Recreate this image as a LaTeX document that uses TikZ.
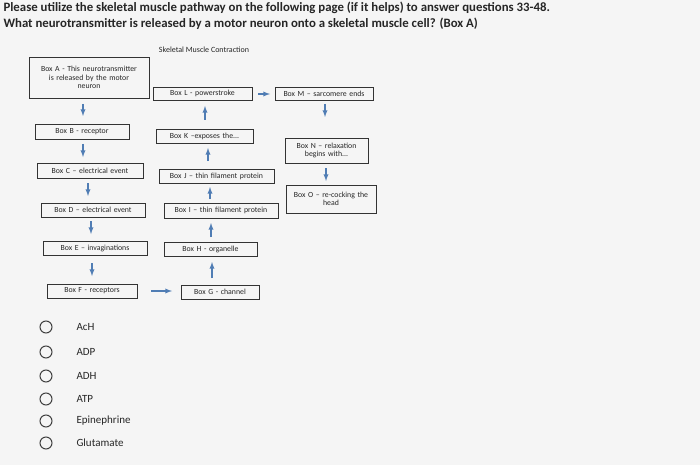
\documentclass[tikz,border=0pt]{standalone}
\usepackage{fontspec}
\setmainfont{Carlito}
\definecolor{arc}{RGB}{80,125,180}
\begin{document}
\begin{tikzpicture}[x=1pt,y=-1pt,
  bx/.style={inner sep=0pt,font=\fontsize{7.8}{8.3}\selectfont,align=center,text=black!85},
  ar/.style={-latex,draw=arc,line width=1.3pt},
  opt/.style={circle,draw=black!75,line width=1pt,minimum size=12pt,inner sep=0pt}]
\fill[black!4] (0,0) rectangle (700,465);
\useasboundingbox (0,0) rectangle (700,465);
\node[anchor=west,font=\fontsize{12.8}{13}\selectfont\bfseries,text=black!85] (h1) at (0,8) {Please utilize the skeletal muscle pathway on the following page (if it helps) to answer questions 33-48.};
\node[anchor=west,font=\fontsize{12.8}{13}\selectfont\bfseries,text=black!85] (h2) at (0,24) {What neurotransmitter is released by a motor neuron onto a skeletal muscle cell? (Box A)};
\node[font=\fontsize{8}{8}\selectfont,text=black!85] (t) at (204,50) {Skeletal Muscle Contraction};
\def\B(#1,#2,#3,#4,#5,#6){\path[draw=black!80,line width=0.9pt] (#2,#3) rectangle (#4,#5); \node[bx,text width=#4pt-#2pt-2pt] (#1) at ({(#2+#4)/2},{(#3+#5)/2}) {#6};}
\B(A,29,57,149,98,{Box A - This neurotransmitter\\ is released by the motor\\ neuron})
\B(B,35,124,129,139,{Box B - receptor})
\B(C,37,163,143,178,{Box C -- electrical event})
\B(D,41,203,145,217,{Box D -- electrical event})
\B(E,43,241,147,255,{Box E -- invaginations})
\B(F,47,284,137,298,{Box F - receptors})
\B(G,181,285,259,299,{Box G - channel})
\B(H,164,242,257,256,{Box H - organelle})
\B(I,164,203,278,218,{Box I -- thin filament protein})
\B(J,159,169,274,183,{Box J -- thin filament protein})
\B(K,156,129,253,143,{Box K --exposes the...})
\B(L,153,87,252,100,{Box L - powerstroke})
\B(M,275,87,373,100,{Box M -- sarcomere ends})
\B(N,285,138,368,163,{Box N -- relaxation\\ begins with...})
\B(O,286,185,376,213,{Box O -- re-cocking the\\ head})
\draw[ar] (83,104)--(83,116);
\draw[ar] (83,144)--(83,157);
\draw[ar] (88,183)--(88,196);
\draw[ar] (91,221)--(91,234);
\draw[ar] (92,263)--(92,276);
\draw[ar] (151,291)--(172,291);
\draw[ar] (212,278)--(212,262);
\draw[ar] (211,237)--(211,223);
\draw[ar] (210,199)--(210,187);
\draw[ar] (208,161)--(208,148);
\draw[ar] (205,120)--(205,106);
\draw[ar] (258,94)--(270,94);
\draw[ar] (325,104)--(325,117);
\draw[ar] (326,168)--(326,181);
\foreach \y/\t [count=\i] in {327/AcH,352/ADP,376/ADH,399/ATP,421/Epinephrine,443/Glutamate}{
  \node[opt] (o\i) at (46,\y) {};
  \node[anchor=west,font=\fontsize{11}{12}\selectfont,text=black!85] (l\i) at (73,\y) {\t};
}
\end{tikzpicture}
\end{document}
